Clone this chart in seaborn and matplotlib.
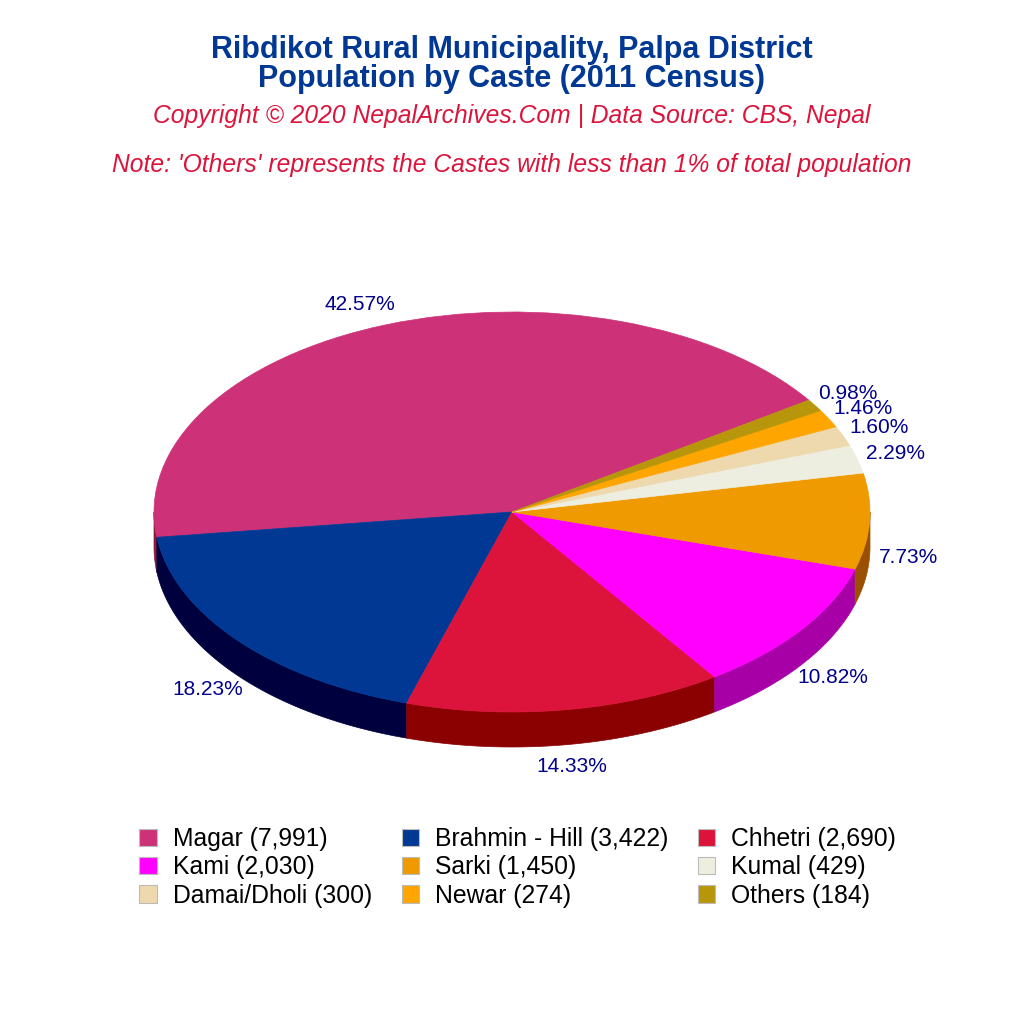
import numpy as np
import seaborn as sns
import matplotlib.pyplot as plt
from matplotlib.patches import Patch

# data (2011 census)
castes = ["Magar", "Brahmin - Hill", "Chhetri", "Kami", "Sarki",
          "Kumal", "Damai/Dholi", "Newar", "Others"]
population = [7991, 3422, 2690, 2030, 1450, 429, 300, 274, 184]
top_colors = ["#CD3278", "#003893", "#DC143C", "#FF00FF", "#EE9A00",
              "#EEEEE0", "#EED8AE", "#FFA500", "#B8960B"]
side_colors = ["#8B1A3A", "#00003F", "#8B0000", "#A600A6", "#9A5000",
               "#9E9E95", "#9E9074", "#AA6E00", "#7A6407"]

sns.set_theme(style="white")
plt.rcParams["font.family"] = ["Liberation Sans", "DejaVu Sans"]

fig = plt.figure(figsize=(10.24, 10.24), dpi=100)
ax = fig.add_axes([0, 0, 1, 1])

total = sum(population)
pct = [p / total * 100 for p in population]
start = 34.0
depth = 0.175

# side walls of the 3d pie (front half only)
edges = start + np.concatenate([[0], np.cumsum(pct)]) * 3.6
for i in range(len(population)):
    a0, a1 = edges[i], edges[i + 1]
    lo, hi = max(a0, 180), min(a1, 360)
    if hi <= lo:
        continue
    t = np.radians(np.linspace(lo, hi, 60))
    xs = np.concatenate([np.cos(t), np.cos(t[::-1])])
    ys = np.concatenate([np.sin(t), np.sin(t[::-1]) - depth])
    ax.fill(xs, ys, color=side_colors[i], lw=0.5, ec=side_colors[i])

wedges, _ = ax.pie(population, colors=top_colors, startangle=start,
                   counterclock=True, radius=1.0)
for w, c in zip(wedges, top_colors):
    w.set_edgecolor(c)
    w.set_linewidth(0.5)

# percentage labels
for i, p in enumerate(pct):
    mid = np.radians((edges[i] + edges[i + 1]) / 2)
    x = 1.11 * np.cos(mid)
    y = 1.11 * np.sin(mid)
    if np.sin(mid) < 0:
        y -= depth
    if i == 0:
        x -= 0.035
    ax.text(x, y, f"{p:.2f}%", ha="center", va="center",
            fontsize=15, color="#00008B")

ax.set_aspect("auto")
ax.set_xlim(-512 / 358, 512 / 358)
ax.set_ylim(-512 / 200, 512 / 200)
ax.axis("off")

# titles
fig.text(0.5, 1 - 58 / 1024, "Ribdikot Rural Municipality, Palpa District",
         ha="center", va="baseline", fontsize=22, fontweight="bold", color="#003893")
fig.text(0.5, 1 - 87 / 1024, "Population by Caste (2011 Census)",
         ha="center", va="baseline", fontsize=22, fontweight="bold", color="#003893")
fig.text(0.5, 1 - 116 / 1024,
         "Copyright \u00a9 2020 NepalArchives.Com | Data Source: CBS, Nepal",
         ha="center", va="center", fontsize=17.7, style="italic", color="#DC143C")
fig.text(0.5, 1 - 165 / 1024,
         "Note: 'Others' represents the Castes with less than 1% of total population",
         ha="center", va="center", fontsize=17.7, style="italic", color="#DC143C")

# legend, filled row by row
labels = [f"{c} ({p:,})" for c, p in zip(castes, population)]
handles = [Patch(facecolor=c, edgecolor="#BBBBBB", linewidth=0.8) for c in top_colors]
order = [0, 3, 6, 1, 4, 7, 2, 5, 8]
fig.legend([handles[i] for i in order], [labels[i] for i in order],
           ncol=3, loc="upper left", bbox_to_anchor=(127 / 1024, 1 - 815 / 1024),
           frameon=False, fontsize=17.8, handlelength=0.7, handleheight=0.7,
           handletextpad=0.65, columnspacing=1.2, labelspacing=0.165, borderpad=0,
           labelcolor="black")

fig.savefig("out.png", dpi=100)
